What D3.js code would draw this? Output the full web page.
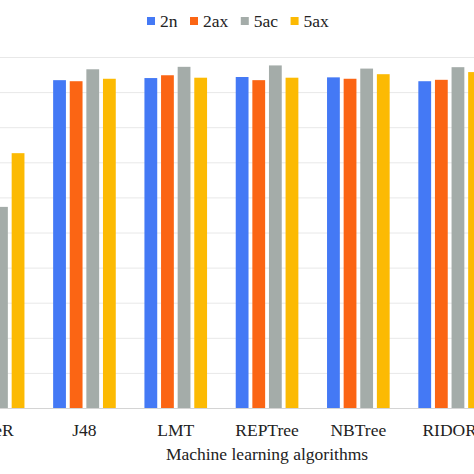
<!DOCTYPE html>
<html>
<head>
<meta charset="utf-8">
<script src="https://cdn.jsdelivr.net/npm/d3@7"></script>
<style>
  body { margin: 0; background: #fff; }
  svg text { font-family: "Liberation Serif", "Times New Roman", serif; fill: #222; }
</style>
</head>
<body>
<div id="chart"></div>
<script>
// data (accuracy, %)
const algorithms = ["OneR", "J48", "LMT", "REPTree", "NBTree", "RIDOR"];
const seriesNames = ["2n", "2ax", "5ac", "5ax"];
const colors = ["#4479f5", "#fb6514", "#a4aca9", "#fcba03"];
const s2n  = [70.0, 93.4, 94.0, 94.3, 94.2, 93.1];
const s2ax = [71.0, 93.1, 94.8, 93.4, 93.8, 93.5];
const s5ac = [57.3, 96.5, 97.2, 97.6, 96.7, 97.1];
const s5ax = [72.6, 93.8, 94.1, 94.1, 95.1, 95.7];
const yTicks = [0, 10, 20, 30, 40, 50, 60, 70, 80, 90, 100];

const seriesValues = [s2n, s2ax, s5ac, s5ax];
const width = 474, height = 474;

const svg = d3.select("#chart")
    .append("svg")
    .attr("width", width)
    .attr("height", height);

// the plot is wider than the picture, first and last groups are cut off
const x0 = d3.scaleBand()
    .domain(algorithms)
    .range([-52.5, 495.3])
    .paddingInner(0.314)
    .paddingOuter(0.157);

const x1 = d3.scaleBand()
    .domain(seriesNames)
    .range([0, x0.bandwidth()])
    .paddingInner(0.23)
    .paddingOuter(0);

const y = d3.scaleLinear()
    .domain([0, 100])
    .range([408, 57]);

// gridlines
svg.append("g")
    .selectAll("line")
    .data(yTicks)
    .join("line")
    .attr("x1", 0)
    .attr("x2", width)
    .attr("y1", d => y(d) + 0.5)
    .attr("y2", d => y(d) + 0.5)
    .attr("stroke", d => d === 0 ? "#d4d4d4" : "#e8e8e8")
    .attr("stroke-width", 1);

// bars
const groups = svg.append("g")
    .selectAll("g")
    .data(algorithms)
    .join("g")
    .attr("transform", d => `translate(${x0(d)},0)`);

groups.selectAll("rect")
    .data((d, i) => seriesNames.map((s, j) => ({ s, v: seriesValues[j][i], c: colors[j] })))
    .join("rect")
    .attr("x", d => x1(d.s))
    .attr("width", x1.bandwidth())
    .attr("y", d => y(d.v))
    .attr("height", d => y(0) - y(d.v))
    .attr("fill", d => d.c);

// category labels
svg.append("g")
    .selectAll("text")
    .data(algorithms)
    .join("text")
    .attr("x", d => x0(d) + x0.bandwidth() / 2)
    .attr("y", 436)
    .attr("text-anchor", "middle")
    .style("font-size", "17.5px")
    .text(d => d);

// x axis title
svg.append("text")
    .attr("x", 267)
    .attr("y", 460)
    .attr("text-anchor", "middle")
    .style("font-size", "17.5px")
    .text("Machine learning algorithms");

// legend
const legend = svg.append("g");
let lx = 147;
seriesNames.forEach((s, i) => {
    legend.append("rect")
        .attr("x", lx)
        .attr("y", 17)
        .attr("width", 8)
        .attr("height", 8)
        .attr("fill", colors[i]);
    const t = legend.append("text")
        .attr("x", lx + 13)
        .attr("y", 26.5)
        .style("font-size", "17.5px")
        .text(s);
    lx += 13 + t.node().getComputedTextLength() + 12.5;
});
</script>
</body>
</html>
